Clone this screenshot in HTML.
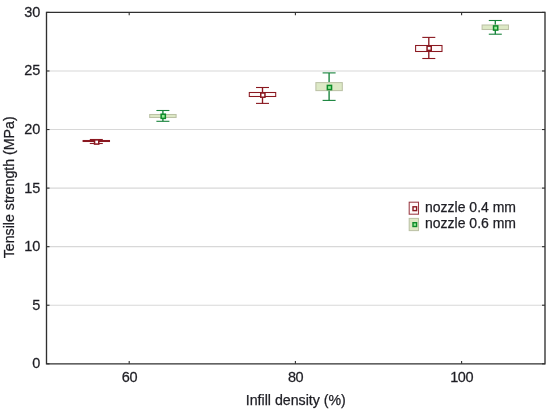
<!DOCTYPE html>
<html><head><meta charset="utf-8"><style>
html,body{margin:0;padding:0;background:#fff;width:550px;height:410px;overflow:hidden}
svg{display:block}
text{font-family:"Liberation Sans",Arial,sans-serif;fill:#1e1e24;stroke:#1e1e24;stroke-width:0.25px}
.t{font-size:14.5px}
.a{font-size:14.2px}
.l{font-size:14px}
</style></head><body>
<svg width="550" height="410" viewBox="0 0 550 410">
<line x1="47" y1="305.23" x2="544" y2="305.23" stroke="#d8d8d8" stroke-width="1.1"/>
<line x1="47" y1="246.67" x2="544" y2="246.67" stroke="#d8d8d8" stroke-width="1.1"/>
<line x1="47" y1="188.1" x2="544" y2="188.1" stroke="#d8d8d8" stroke-width="1.1"/>
<line x1="47" y1="129.53" x2="544" y2="129.53" stroke="#d8d8d8" stroke-width="1.1"/>
<line x1="47" y1="70.97" x2="544" y2="70.97" stroke="#d8d8d8" stroke-width="1.1"/>
<line x1="96.3" y1="139.5" x2="96.3" y2="143.5" stroke="#8a1820" stroke-width="1.35"/>
<line x1="89.8" y1="139.5" x2="102.8" y2="139.5" stroke="#8a1820" stroke-width="1.1"/>
<line x1="89.8" y1="143.5" x2="102.8" y2="143.5" stroke="#8a1820" stroke-width="1.1"/>
<rect x="83.1" y="140.5" width="26.4" height="1.0" fill="#fffafa" stroke="#8a1820" stroke-width="1.05"/>
<rect x="94.55" y="139.90" width="4.20" height="4.20" fill="#ffffff" stroke="#8a1820" stroke-width="1.5"/>
<line x1="162.9" y1="110.5" x2="162.9" y2="121.3" stroke="#16823a" stroke-width="1.35"/>
<line x1="156.4" y1="110.5" x2="169.4" y2="110.5" stroke="#16823a" stroke-width="1.1"/>
<line x1="156.4" y1="121.3" x2="169.4" y2="121.3" stroke="#16823a" stroke-width="1.1"/>
<rect x="149.7" y="114.5" width="26.4" height="3.0" fill="#dde9c6" stroke="#bcc2a6" stroke-width="1.05"/>
<rect x="161.15" y="114.20" width="4.20" height="4.20" fill="#98ec98" stroke="#0e8a2a" stroke-width="1.5"/>
<line x1="262.5" y1="87.5" x2="262.5" y2="103.4" stroke="#8a1820" stroke-width="1.35"/>
<line x1="256.0" y1="87.5" x2="269.0" y2="87.5" stroke="#8a1820" stroke-width="1.1"/>
<line x1="256.0" y1="103.4" x2="269.0" y2="103.4" stroke="#8a1820" stroke-width="1.1"/>
<rect x="249.3" y="92.5" width="26.4" height="4.0" fill="#fffafa" stroke="#8a1820" stroke-width="1.05"/>
<rect x="260.75" y="93.00" width="4.20" height="4.20" fill="#ffffff" stroke="#8a1820" stroke-width="1.5"/>
<line x1="329.1" y1="72.9" x2="329.1" y2="100.4" stroke="#16823a" stroke-width="1.35"/>
<line x1="322.6" y1="72.9" x2="335.6" y2="72.9" stroke="#16823a" stroke-width="1.1"/>
<line x1="322.6" y1="100.4" x2="335.6" y2="100.4" stroke="#16823a" stroke-width="1.1"/>
<rect x="315.9" y="82.6" width="26.4" height="8.0" fill="#dde9c6" stroke="#bcc2a6" stroke-width="1.05"/>
<rect x="327.35" y="85.40" width="4.20" height="4.20" fill="#98ec98" stroke="#0e8a2a" stroke-width="1.5"/>
<line x1="428.8" y1="37.4" x2="428.8" y2="58.5" stroke="#8a1820" stroke-width="1.35"/>
<line x1="422.3" y1="37.4" x2="435.3" y2="37.4" stroke="#8a1820" stroke-width="1.1"/>
<line x1="422.3" y1="58.5" x2="435.3" y2="58.5" stroke="#8a1820" stroke-width="1.1"/>
<rect x="415.6" y="45.5" width="26.4" height="6.0" fill="#fffafa" stroke="#8a1820" stroke-width="1.05"/>
<rect x="427.05" y="46.20" width="4.20" height="4.20" fill="#ffffff" stroke="#8a1820" stroke-width="1.5"/>
<line x1="495.3" y1="20.5" x2="495.3" y2="34.2" stroke="#16823a" stroke-width="1.35"/>
<line x1="488.8" y1="20.5" x2="501.8" y2="20.5" stroke="#16823a" stroke-width="1.1"/>
<line x1="488.8" y1="34.2" x2="501.8" y2="34.2" stroke="#16823a" stroke-width="1.1"/>
<rect x="482.1" y="25.0" width="26.4" height="4.5" fill="#dde9c6" stroke="#bcc2a6" stroke-width="1.05"/>
<rect x="493.55" y="25.90" width="4.20" height="4.20" fill="#98ec98" stroke="#0e8a2a" stroke-width="1.5"/>
<path d="M46.5 12.4 H545 V363.8 H46.5 Z" fill="none" stroke="#303030" stroke-width="1.35"/>
<line x1="46.5" y1="363.80" x2="49.5" y2="363.80" stroke="#303030" stroke-width="1.1"/>
<line x1="542" y1="363.80" x2="545" y2="363.80" stroke="#303030" stroke-width="1.1"/>
<line x1="46.5" y1="305.23" x2="49.5" y2="305.23" stroke="#303030" stroke-width="1.1"/>
<line x1="542" y1="305.23" x2="545" y2="305.23" stroke="#303030" stroke-width="1.1"/>
<line x1="46.5" y1="246.67" x2="49.5" y2="246.67" stroke="#303030" stroke-width="1.1"/>
<line x1="542" y1="246.67" x2="545" y2="246.67" stroke="#303030" stroke-width="1.1"/>
<line x1="46.5" y1="188.10" x2="49.5" y2="188.10" stroke="#303030" stroke-width="1.1"/>
<line x1="542" y1="188.10" x2="545" y2="188.10" stroke="#303030" stroke-width="1.1"/>
<line x1="46.5" y1="129.53" x2="49.5" y2="129.53" stroke="#303030" stroke-width="1.1"/>
<line x1="542" y1="129.53" x2="545" y2="129.53" stroke="#303030" stroke-width="1.1"/>
<line x1="46.5" y1="70.97" x2="49.5" y2="70.97" stroke="#303030" stroke-width="1.1"/>
<line x1="542" y1="70.97" x2="545" y2="70.97" stroke="#303030" stroke-width="1.1"/>
<line x1="46.5" y1="12.40" x2="49.5" y2="12.40" stroke="#303030" stroke-width="1.1"/>
<line x1="542" y1="12.40" x2="545" y2="12.40" stroke="#303030" stroke-width="1.1"/>
<line x1="129.2" y1="361" x2="129.2" y2="363.8" stroke="#303030" stroke-width="1.1"/>
<line x1="129.2" y1="12.4" x2="129.2" y2="15.2" stroke="#303030" stroke-width="1.1"/>
<line x1="295.4" y1="361" x2="295.4" y2="363.8" stroke="#303030" stroke-width="1.1"/>
<line x1="295.4" y1="12.4" x2="295.4" y2="15.2" stroke="#303030" stroke-width="1.1"/>
<line x1="461.6" y1="361" x2="461.6" y2="363.8" stroke="#303030" stroke-width="1.1"/>
<line x1="461.6" y1="12.4" x2="461.6" y2="15.2" stroke="#303030" stroke-width="1.1"/>
<text transform="translate(40.3 368.00) scale(1 1.04)" text-anchor="end" class="t">0</text>
<text transform="translate(40.3 310.00) scale(1 1.04)" text-anchor="end" class="t">5</text>
<text transform="translate(40.3 251.00) scale(1 1.04)" text-anchor="end" class="t">10</text>
<text transform="translate(40.3 193.00) scale(1 1.04)" text-anchor="end" class="t">15</text>
<text transform="translate(40.3 134.00) scale(1 1.04)" text-anchor="end" class="t">20</text>
<text transform="translate(40.3 75.00) scale(1 1.04)" text-anchor="end" class="t">25</text>
<text transform="translate(40.3 17.00) scale(1 1.04)" text-anchor="end" class="t">30</text>
<text transform="translate(129.4 382.4) scale(1 1.07)" text-anchor="middle" class="t" letter-spacing="-0.4">60</text>
<text transform="translate(295.6 382.4) scale(1 1.07)" text-anchor="middle" class="t" letter-spacing="-0.4">80</text>
<text transform="translate(461.7 382.4) scale(1 1.07)" text-anchor="middle" class="t" letter-spacing="-0.4">100</text>
<text x="295.8" y="405" text-anchor="middle" class="a">Infill density (%)</text>
<text transform="translate(13.7 187.3) rotate(-90)" text-anchor="middle" class="a">Tensile strength (MPa)</text>
<rect x="409.2" y="202.2" width="9.3" height="12" fill="#fffafa" stroke="#9a3a44" stroke-width="1.05"/>
<rect x="413.0" y="206.8" width="3.6" height="3.8" fill="#fff" stroke="#8a1820" stroke-width="1.4"/>
<text x="425" y="212.2" class="l">nozzle 0.4 mm</text>
<rect x="409.2" y="218.4" width="9.3" height="12.2" fill="#dde9c6" stroke="#bcc2a6" stroke-width="1.05"/>
<rect x="413.0" y="222.7" width="3.6" height="3.8" fill="#98ec98" stroke="#0e8a2a" stroke-width="1.4"/>
<text x="425" y="227.8" class="l">nozzle 0.6 mm</text>
</svg>
</body></html>
